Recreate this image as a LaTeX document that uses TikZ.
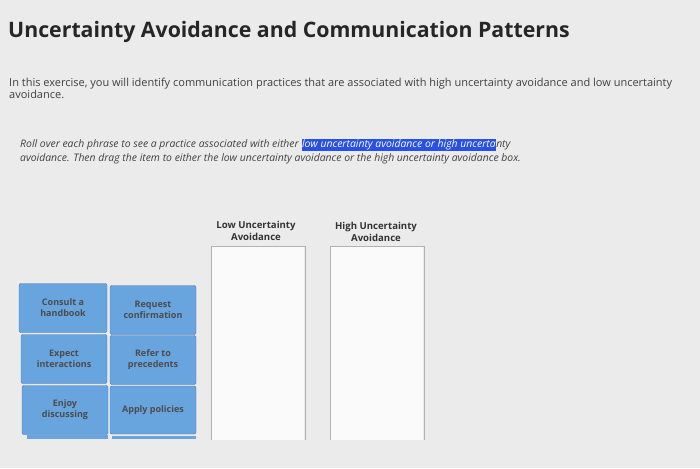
\documentclass[tikz,border=0pt]{standalone}
\usepackage{fontspec}
\setmainfont{Open Sans}
\definecolor{tilec}{RGB}{104,164,222}
\definecolor{tiled}{RGB}{70,120,175}
\definecolor{hl}{RGB}{40,80,230}
\begin{document}
\begin{tikzpicture}[x=1pt,y=-1pt,
 tile/.style={draw=tiled,fill=tilec,rounded corners=2pt,align=center,font=\bfseries\fontsize{9}{11}\selectfont,text=black!70,inner sep=0pt},
 col/.style={draw=black!30},
 hdr/.style={align=center,font=\bfseries\fontsize{9.6}{11.5}\selectfont,text=black!80}]
\fill[black!8] (0,0) rectangle (700,468);
\node[anchor=west,font=\bfseries\fontsize{21.3}{24}\selectfont,text=black!85,inner sep=0pt] (title) at (8,32) {Uncertainty Avoidance and Communication Patterns};
\node[anchor=north west,align=left,font=\fontsize{11}{10}\selectfont,text=black!75,inner sep=0pt] (intro) at (9,78) {In this exercise, you will identify communication practices that are associated with high uncertainty avoidance and low uncertainty\\avoidance.};
\node[anchor=north west,align=left,font=\itshape\fontsize{10.4}{14}\selectfont,text=black!75,inner sep=0pt] (roll) at (20,139) {Roll over each phrase to see a practice associated with either {\setlength{\fboxsep}{0.5pt}\colorbox{hl}{\textcolor{white}{low uncertainty avoidance or high uncerta}}}nty\\avoidance. Then drag the item to either the low uncertainty avoidance or the high uncertainty avoidance box.};
\node[hdr] (lh) at (256,231) {Low Uncertainty\\Avoidance};
\node[hdr] (hh) at (376,232) {High Uncertainty\\Avoidance};
\fill[white!96!gray] (212,247) rectangle (304,440);
\fill[white!96!gray] (331,247) rectangle (423,440);
\draw[col] (211,440) -- (211,246) -- (305,246) -- (305,440);
\draw[col] (330,440) -- (330,246) -- (424,246) -- (424,440);
\node[tile,minimum width=88,minimum height=49] (t1) at (63,308) {Consult a\\handbook};
\node[tile,minimum width=86,minimum height=49] (t2) at (153,310) {Request\\confirmation};
\node[tile,minimum width=86,minimum height=49] (t3) at (64,359) {Expect\\interactions};
\node[tile,minimum width=86,minimum height=49] (t4) at (153,360) {Refer to\\precedents};
\node[tile,minimum width=86,minimum height=49] (t5) at (65,410) {Enjoy\\discussing};
\node[tile,minimum width=86,minimum height=48] (t6) at (153,410) {Apply policies};
\fill[tilec] (27,435) rectangle (108,439);
\fill[tilec] (112,436) rectangle (196,439);
\end{tikzpicture}
\end{document}
